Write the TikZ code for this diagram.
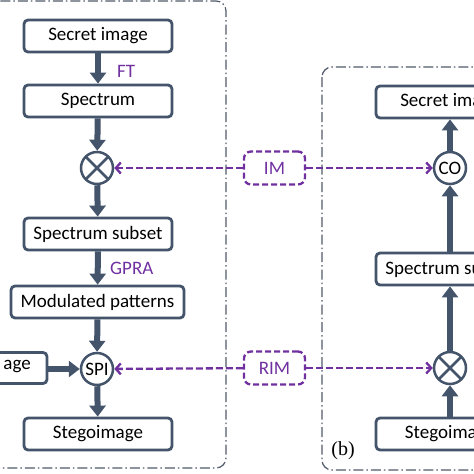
\documentclass[tikz,border=0pt]{standalone}
\usepackage{fontspec}
\setmainfont{Carlito}
\newfontfamily\tnr{Liberation Serif}
\usetikzlibrary{arrows.meta}
\definecolor{boxc}{HTML}{44546A}
\definecolor{pur}{HTML}{7030A0}
\definecolor{frm}{HTML}{505A6A}
\begin{document}
\begin{tikzpicture}[x=1pt,y=-1pt,font=\fontsize{19}{22}\selectfont,
  blk/.style={draw=boxc,line width=2.8pt,rounded corners=4pt,fill=white,minimum width=148pt,minimum height=32pt,inner sep=0pt},
  op/.style={draw=boxc,line width=2.5pt,circle,fill=white,minimum size=32pt,inner sep=0pt},
  mult/.style={op,path picture={\draw[boxc,line width=2.5pt] (path picture bounding box.north west) -- (path picture bounding box.south east) (path picture bounding box.north east) -- (path picture bounding box.south west);}},
  flow/.style={boxc,line width=6pt,-{Triangle[width=16pt,length=11pt]}},
  key/.style={draw=pur,line width=2.3pt,dash pattern=on 6pt off 3pt,rounded corners=7pt,minimum width=61pt,minimum height=33pt,inner sep=0pt,text=pur},
  link/.style={pur,line width=2.3pt,dash pattern=on 7pt off 3pt,-{Straight Barb[length=5pt,width=11pt,line width=2.3pt]}},
  lab/.style={text=pur,anchor=west,inner sep=0pt},
  frame/.style={frm,line width=1.2pt,dash pattern=on 10pt off 3pt on 1.5pt off 3pt,rounded corners=10pt}]
\useasboundingbox (0,0) rectangle (474,474);
\clip (0,0) rectangle (474,474);
% frames
\draw[frame] (-30,1) rectangle (226,468);
\draw[frame] (322,67) rectangle (520,470);
% left panel
\node[blk] (secret) at (98,36) {Secret image};
\node[blk] (spec) at (98,101) {Spectrum};
\node[mult] (m1) at (97,168) {};
\node[blk] (sub) at (98,234) {Spectrum subset};
\node[blk,minimum width=173pt] (mod) at (97.5,302) {Modulated patterns};
\node[op] (spi) at (97,369) {SPI};
\node[blk,minimum width=120pt,minimum height=31pt] (cover) at (-13,368) {};
\node[anchor=east,inner sep=0pt] (covt) at (31,367) {age};
\node[blk] (stego) at (98,434) {Stegoimage};
\draw[flow] (secret) -- (spec);
\draw[flow] (spec) -- (m1);
\draw[flow] (m1) -- (sub);
\draw[flow] (sub) -- (mod);
\draw[flow] (mod) -- (spi);
\draw[flow] (cover.east |- spi) -- (spi);
\draw[flow] (spi) -- (stego);
\node[lab] (ft) at (117,71) {FT};
\node[lab] (gpra) at (110,268) {GPRA};
% keys
\node[key] (im) at (274.5,168) {IM};
\node[key] (rim) at (274.5,368) {RIM};
% right panel
\node[blk] (secret2) at (450,102) {Secret image};
\node[op] (co) at (450,168) {CO};
\node[blk] (sub2) at (450,269) {Spectrum subset};
\node[mult] (m2) at (450,368) {};
\node[blk] (stego2) at (450,434) {Stegoimage};
\draw[flow] (stego2) -- (m2);
\draw[flow] (m2) -- (sub2);
\draw[flow] (sub2) -- (co);
\draw[flow] (co) -- (secret2);
\node[inner sep=0pt,font=\tnr\fontsize{20}{22}\selectfont] (b) at (343,451) {(b)};
% links
\draw[link] (im) -- (m1);
\draw[link] (im) -- (co);
\draw[link] (rim) -- (spi);
\draw[link] (rim) -- (m2);
\end{tikzpicture}
\end{document}
